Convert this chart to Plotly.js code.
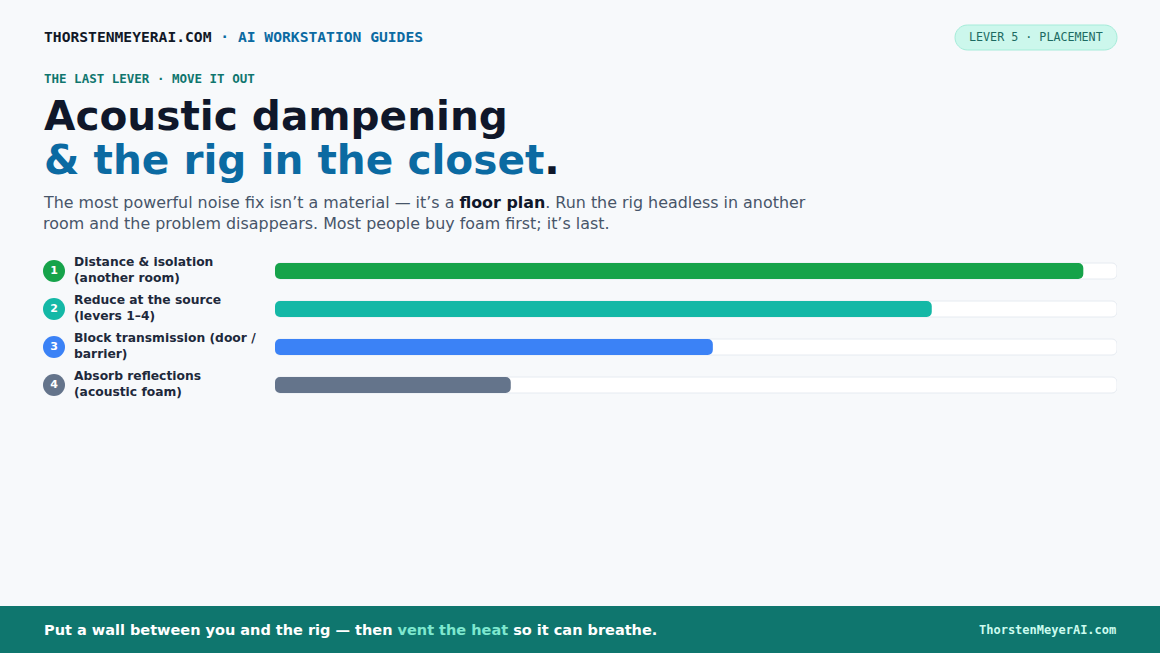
<!DOCTYPE html>
<html>
<head>
<meta charset="utf-8">
<script src="https://cdn.plot.ly/plotly-3.0.1.min.js"></script>
<style>
html,body{margin:0;padding:0;background:#f7f9fb;}
#chart{width:1160px;height:653px;}
</style>
</head>
<body>
<div id="chart"></div>
<script>
// ---- data ----
const ranks = ["1", "2", "3", "4"];
const labelLine1 = ["Distance & isolation", "Reduce at the source", "Block transmission (door /", "Absorb reflections"];
const labelLine2 = ["(another room)", "(levers 1–4)", "barrier)", "(acoustic foam)"];
const effectiveness = [96, 78, 52, 28];
const scaleMax = [100, 100, 100, 100];
const barColors = ["#16a34a", "#14b8a6", "#3b82f6", "#64748b"];

const W = 1160, H = 653;
const px = v => v / W;
const py = v => 1 - v / H;

const fontSans = "DejaVu Sans, sans-serif";
const fontMono = "DejaVu Sans Mono, monospace";

const labels = labelLine1.map((l, i) => "<b>" + l + "</b><br><b>" + labelLine2[i] + "</b>");

const BAR_W = 16 / 38;
const zeroBase = ranks.map(() => 0); // explicit base → floating bars, rounded at both ends

const traces = [
  { // track
    type: "bar", orientation: "h", y: ranks, x: scaleMax, base: zeroBase,
    marker: { color: "#ffffff", line: { color: "#e6ebf1", width: 1 }, cornerradius: 5 },
    width: BAR_W, hoverinfo: "skip", showlegend: false
  },
  { // values
    type: "bar", orientation: "h", y: ranks, x: effectiveness, base: zeroBase,
    marker: { color: barColors, line: { width: 0 }, cornerradius: 5 },
    width: BAR_W, hoverinfo: "skip", showlegend: false
  },
  { // rank circles
    type: "scatter", mode: "markers+text", xaxis: "x2", yaxis: "y2",
    x: ranks.map(() => 54), y: ranks,
    marker: { size: 22, color: barColors, line: { width: 0 } },
    text: ranks, textposition: "middle center",
    textfont: { family: fontSans, size: 11, color: "#ffffff", weight: "bold" },
    hoverinfo: "skip", showlegend: false
  },
  { // labels
    type: "scatter", mode: "text", xaxis: "x2", yaxis: "y2",
    x: ranks.map(() => 74), y: ranks,
    text: labels, textposition: "middle right",
    textfont: { family: fontSans, size: 12.3, color: "#1e293b" },
    hoverinfo: "skip", showlegend: false
  }
];

const ann = (text, x, y, size, color, family, extra) => Object.assign({
  text, x: px(x), y: py(y), xref: "paper", yref: "paper",
  xanchor: "left", yanchor: "middle", showarrow: false,
  font: { size, color, family }, align: "left"
}, extra || {});

const annotations = [
  ann("<b>THORSTENMEYERAI.COM</b><b><span style='color:#0b6aa2'> · AI WORKSTATION GUIDES</span></b>", 42, 37, 14.65, "#111827", fontMono),
  ann("<b>THE LAST LEVER · MOVE IT OUT</b>", 42, 78, 12.5, "#0f766e", fontMono),
  ann("<b>Acoustic dampening</b>", 42, 116, 40.6, "#0f172a", fontSans),
  ann("<b><span style='color:#0b6aa2'>& the rig in the closet</span>.</b>", 42, 160, 40.6, "#0f172a", fontSans),
  ann("The most powerful noise fix isn’t a material — it’s a <b><span style='color:#0f172a'>floor plan</span></b>. Run the rig headless in another", 41, 202, 15.9, "#475569", fontSans),
  ann("room and the problem disappears. Most people buy foam first; it’s last.", 41, 224, 15.9, "#475569", fontSans),
  ann("LEVER 5 · PLACEMENT", 1036, 37, 11.7, "#1d6b62", fontMono, { xanchor: "center" }),
  ann("<b>Put a wall between you and the rig — then <span style='color:#7ee8cf'>vent the heat</span> so it can breathe.</b>", 42, 630, 14.5, "#ffffff", fontSans),
  ann("<b>ThorstenMeyerAI.com</b>", 1118, 630, 12, "#ccfbef", fontMono, { xanchor: "right" })
];

const pillW = 162, pillH = 25, r = 12.5, k = 0.5523 * r;
const pillPath = `M ${r},0 H ${pillW - r} C ${pillW - r + k},0 ${pillW},${r - k} ${pillW},${r} C ${pillW},${r + k} ${pillW - r + k},${pillH} ${pillW - r},${pillH} H ${r} C ${r - k},${pillH} 0,${r + k} 0,${r} C 0,${r - k} ${r - k},0 ${r},0 Z`;

const shapes = [
  { type: "rect", xref: "paper", yref: "paper", x0: 0, x1: 1, y0: 0, y1: py(606),
    fillcolor: "#0f766e", line: { width: 0 }, layer: "below" },
  { type: "path", xref: "paper", yref: "paper", xsizemode: "pixel", ysizemode: "pixel",
    xanchor: px(955), yanchor: py(50), path: pillPath,
    fillcolor: "#ccf7ec", line: { color: "#a5ecd9", width: 1 }, layer: "below" }
];

const yDomain = [py(404), py(252)];

const layout = {
  width: W, height: H,
  margin: { l: 0, r: 0, t: 0, b: 0 },
  paper_bgcolor: "#f7f9fb", plot_bgcolor: "rgba(0,0,0,0)",
  barmode: "overlay",
  xaxis: { domain: [px(275), px(1117)], range: [0, 100], visible: false, fixedrange: true },
  yaxis: { domain: yDomain, type: "category", range: [3.5, -0.5], visible: false, fixedrange: true },
  xaxis2: { domain: [0, 1], range: [0, W], visible: false, anchor: "y2" },
  yaxis2: { domain: yDomain, type: "category", range: [3.5, -0.5], visible: false, anchor: "x2" },
  annotations, shapes, showlegend: false
};

Plotly.newPlot("chart", traces, layout, { displayModeBar: false, staticPlot: true });
</script>
</body>
</html>
